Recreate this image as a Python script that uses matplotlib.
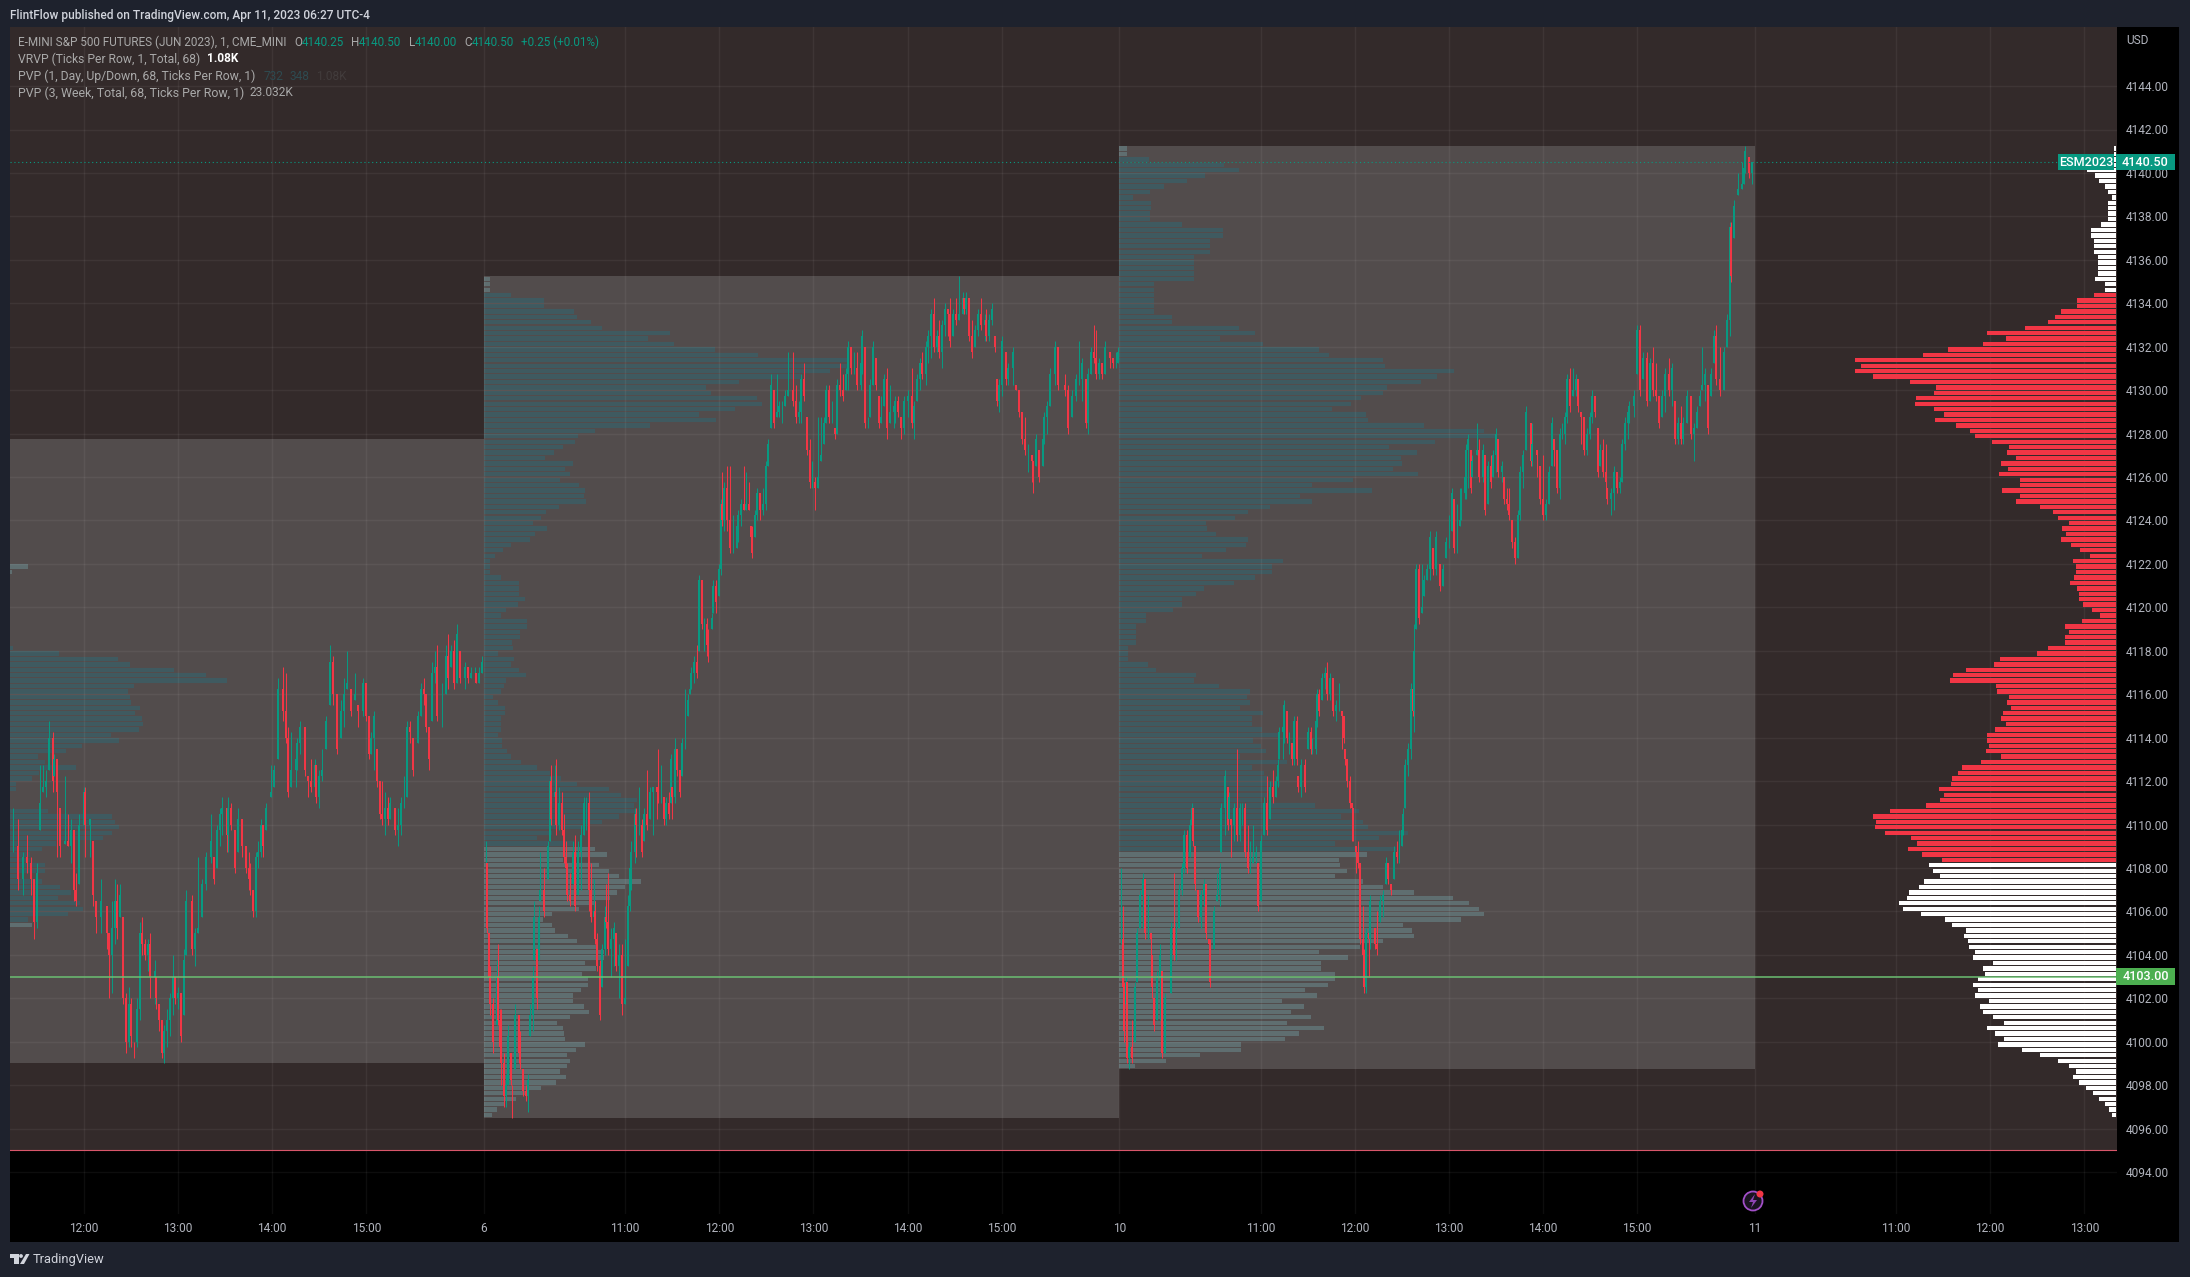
import numpy as np
import matplotlib
matplotlib.use("Agg")
import matplotlib.pyplot as plt
from matplotlib.patches import Rectangle, Circle, Polygon

plt.rcParams['font.family'] = ['Roboto', 'DejaVu Sans']

# --- ticks ---
price_ticks = [4144, 4142, 4140, 4138, 4136, 4134, 4132, 4130, 4128, 4126, 4124, 4122, 4120, 4118, 4116, 4114,
               4112, 4110, 4108, 4106, 4104, 4102, 4100, 4098, 4096, 4094]
time_ticks = [-255, -195, -135, -75, 0, 90, 150, 210, 270, 330, 405, 495, 555, 615, 675, 735, 810, 900, 960, 1020]
time_labels = ['12:00', '13:00', '14:00', '15:00', '6', '11:00', '12:00', '13:00', '14:00', '15:00', '10',
               '11:00', '12:00', '13:00', '14:00', '15:00', '11', '11:00', '12:00', '13:00']

# --- session boxes (first bar, high, low) ---
box_start = [-405, 0, 405]
box_top = [4127.75, 4135.25, 4141.25]
box_bottom = [4099.0, 4096.5, 4098.75]

# --- session 1 candles ---
s1_min = [105,108,111,114,116,118,120,122,124,126,128,130,131,133,135,138,140,142,144,145,147,150,151,154,156,158,161,165,166,168,
          170,171,173,175,177,179,180,182,184,186,187,189,191,192,195,196,198,200,201,203,205,207,208,210,212,214,215,219,221,223,
          225,228,231,233,235,237,238,241,242,244,246,248,251,253,255,256,258,260,261,263,264,266,269,271,274,277,279,280,282,285,
          286,288,291,293,295,297,298,300,302,304,307,309,311,314,316,318,320,323,325,328,330,332,333,335,337,339,340,342,344,345,
          348,350,352,354,356,358,360,363,365,367,368,370,372,374,375,378,381,382,384,386,388,390,393,395,397,399,400,402,404]
s1_high = [4110.75,4110.25,4108.75,4109.5,4108.5,4107.5,4108.25,4112.75,4112.75,4112.5,4114.75,4114.25,4113.25,4113,4110.75,4112.25,4110.5,4110.25,4109.75,4107.75,4110.5,4111.75,4111.75,4110.25,4109.25,4106.5,4107.5,4106.25,4105,4106.5,
           4107.5,4107.25,4107.25,4105.75,4102.25,4102.5,4102,4100,4102,4105.5,4105.75,4104.75,4104.75,4105,4103.75,4103,4101.75,4101,4100.75,4101.5,4102.25,4104,4103,4102.5,4102.25,4104.25,4107,4106.75,4105.25,4108.5,
           4107.5,4108.75,4110.5,4108.5,4110,4110.75,4111.25,4110.75,4111.25,4111,4109.75,4110.75,4110.25,4109,4108.75,4108.25,4107,4108.75,4109.25,4110.25,4110,4111,4112.75,4112.75,4116.75,4117.25,4117,4114.5,4114.25,4113.25,
           4114,4114.75,4114.5,4112.25,4113,4113,4112.75,4112.5,4113.5,4115,4118.25,4117.75,4116,4115.75,4116.75,4118,4116.25,4117,4115.5,4116.75,4116.5,4115,4114.25,4115.25,4113.5,4112,4112,4111.5,4111.25,4111.25,
           4110.75,4110.75,4111.25,4112.25,4114.75,4114.75,4114,4115.25,4116.5,4116.75,4116,4114.5,4117.5,4118,4118.25,4116.5,4118.25,4118.75,4118.25,4118.5,4119.25,4118,4117.5,4117.25,4117.25,4117.25,4117,4117.25,4117.75]
s1_low = [4108.75,4107,4106.75,4107.75,4106.75,4104.75,4105.25,4109.75,4111.5,4111.25,4112.5,4111.5,4112.25,4108.5,4108.5,4109.1,4109,4108.25,4106.5,4106.25,4107.25,4110,4108.5,4108.5,4106.25,4105,4105,4104.25,4102,4102.25,
          4104.5,4104.75,4105.75,4101.75,4099.5,4099.75,4099.75,4099.25,4099.75,4101,4104,4103.75,4103.25,4102,4101.75,4101.5,4100.5,4099.25,4099,4099.75,4100.25,4101.25,4101.75,4101.5,4100,4101.25,4104,4104,4103.5,4105,
          4105.75,4107,4108.25,4107.25,4108,4109,4109.5,4108.75,4108.75,4109.75,4107.75,4108.75,4108.5,4107.75,4107,4106.75,4105.75,4105.75,4108,4108.5,4108.5,4109.75,4111.25,4111.75,4113,4114.75,4113.75,4111.25,4111.75,4111.75,
          4112.5,4113.25,4112.25,4111.25,4111.5,4111.75,4111,4110.75,4112,4113.5,4115.5,4115.5,4113.25,4114,4114.5,4116.25,4115,4115.75,4114.5,4115,4114.75,4113,4113.25,4112.5,4111.75,4110.25,4110,4109.5,4110,4110.25,
          4109.5,4109,4109.5,4110.75,4111.25,4113.75,4112.25,4113.75,4115,4115.5,4114.25,4112.5,4114.75,4116.5,4114.75,4114.5,4116,4116.25,4117.25,4116.25,4116.5,4116.5,4116.25,4116.5,4116.75,4116.75,4116.5,4116.5,4117]
s1_close = [4109,4107.5,4108.5,4108.25,4107.5,4105.5,4107.75,4111,4111.75,4112,4114,4112,4113,4111.5,4109,4109.25,4109,4109.75,4107,4106.5,4110,4111.5,4110,4110.25,4106.75,4105.75,4106.5,4105,4104,4105.25,
            4106.5,4105.25,4106.75,4102,4100,4101.75,4100.25,4100,4101.5,4105,4104.5,4104,4104.5,4103,4103.25,4102,4101,4099.5,4100.5,4101,4102,4103,4102,4102.25,4100.25,4103.75,4106.5,4104.25,4105,4105.25,
            4107.25,4108.5,4109.25,4107.5,4109.75,4110.5,4110.75,4109.5,4110.75,4110,4108,4110.25,4109,4108,4107.5,4107,4106,4108.5,4108.75,4110,4109,4110.75,4111.5,4112.5,4116.25,4115.25,4114,4111.5,4112.5,4113,
            4113.75,4114.5,4112.5,4112,4111.75,4112.75,4111.25,4112.25,4112.5,4114.75,4117.5,4116,4113.5,4115.25,4116,4116.5,4115.25,4116,4115.25,4116.5,4115,4113.25,4114,4115,4112,4110.5,4110.25,4110.75,4110.25,4111,
            4109.75,4110,4111,4111,4114.5,4114.25,4112.5,4115,4116.25,4116,4114.5,4113,4117,4117.25,4115,4115,4117.75,4116.75,4118,4116.5,4118.75,4116.75,4117.25,4116.75,4117,4117,4116.5,4117,4117.5]

# --- session 2 candles ---
s2_min = [1,2,3,4,6,8,9,10,11,13,14,15,17,18,20,22,23,25,27,28,29,31,32,34,35,36,38,41,42,43,45,46,48,50,51,52,53,55,57,58,
          60,62,64,65,67,68,70,71,72,74,75,77,78,79,81,83,84,86,88,90,92,93,94,96,97,99,101,102,104,106,108,110,111,113,115,116,118,119,120,122,
          123,125,126,128,130,131,132,134,136,137,139,140,142,143,145,146,148,150,151,152,153,155,157,159,161,162,164,166,167,169,170,171,173,174,176,178,180,181,183,185,
          187,188,190,192,194,197,199,201,202,204,206,208,209,211,213,215,217,218,220,222,224,225,227,229,231,232,234,236,238,240,241,243,245,246,248,250,252,253,255,257,
          259,261,262,264,266,268,270,273,274,276,278,279,282,283,285,287,289,290,292,294,296,297,299,301,303,305,306,307,309,311,313,315,317,319,320,322,324,326,327,328,
          330,333,334,337,339,341,343,345,347,349,350,352,354,356,357,359,361,364,366,370,372,375,377,379,381,384,385,387,389,390,392,394,396,399,401,403,404]
s2_high = [4109.25,4108.25,4105,4103.5,4102,4103.75,4104.5,4101.5,4101.5,4099.5,4098.5,4100.75,4099.5,4098,4101.75,4101.25,4100.5,4098.75,4098,4098.5,4101.75,4103.5,4106.5,4104.25,4106.25,4108.75,4108,4109.25,4112.25,4112.75,4112.75,4113,4111.75,4111.5,4110.5,4109.25,4108.25,4107.75,4109.25,4109.5,
           4109.25,4110,4111.25,4111.25,4111.5,4108.25,4107.5,4106.5,4105,4103.75,4104.5,4106.25,4107.25,4107.75,4105.25,4105.5,4105,4104.5,4104.5,4104.75,4106.75,4108.25,4109.25,4110.75,4110.75,4111.75,4110.25,4110.75,4112.5,4111.75,4111.75,4111.75,4113.5,4112.75,4111.25,4111.25,4111.5,4113.25,4111.75,4114,
           4113.5,4112.5,4114,4116.25,4116,4116.5,4117.25,4117.75,4118.25,4121.5,4121.25,4119.5,4119.5,4119,4119.75,4121.25,4121.25,4122,4125,4126.25,4125.75,4126.5,4126.5,4124.25,4124,4124.5,4125,4126.5,4126.25,4125.75,4123.75,4123.75,4124.5,4125.5,4125.25,4125.5,4126.75,4127.75,4130.75,4130,
           4130.75,4129.5,4129.5,4130,4131.75,4131.75,4130.25,4129.5,4130.75,4131.25,4128.75,4127.75,4126.75,4126,4128.75,4128.75,4128.75,4130.25,4130.25,4129.5,4128.25,4130.5,4131.25,4130.75,4131,4132.25,4132,4131.75,4131.75,4131.5,4132.75,4132,4128.75,4130.5,4132.25,4131.5,4129.75,4129.75,4130.75,4131,
           4130.25,4129.5,4129.75,4129.75,4128.75,4129.75,4130,4131,4129.5,4130.75,4131.5,4131.75,4132.25,4132.75,4133.75,4134.25,4132.75,4133.25,4133.25,4134,4133.75,4134.25,4133.75,4134.25,4135.25,4134.5,4134.25,4134.5,4134.25,4133.25,4133,4133.75,4134.25,4133.5,4133.75,4133.5,4134,4132.5,4130.5,4130.5,
           4132.5,4131.75,4131.25,4132,4130.25,4130,4129,4128.75,4127.5,4127,4126.75,4128,4127.25,4128,4129,4129.5,4131,4132.25,4132,4130.75,4130.25,4130,4130.75,4132.25,4131.5,4130.5,4131,4132,4133,4132.75,4131.5,4131.25,4132.25,4131.75,4131.5,4131.75,4132]
s2_low = [4107.25,4105,4102,4101.25,4099.5,4100.75,4100.75,4099.25,4098,4097,4097,4098,4098,4096.5,4098.75,4099,4098.75,4097.5,4097.25,4096.75,4100.25,4100.5,4103.75,4101.5,4103.75,4106.5,4105.75,4107.5,4109.25,4110,4111.25,4109.5,4109.75,4109.5,4108.25,4107.75,4106.5,4106.25,4107.25,4106,
          4106.75,4107,4109.5,4109.75,4106,4105.5,4105.75,4104.5,4103.25,4101,4102.5,4104,4105.25,4104,4103,4103.5,4103.25,4102,4101.25,4101.75,4103.5,4106,4107,4108.25,4108.5,4109.5,4108.5,4109.25,4109.75,4110.25,4109.5,4110.25,4111,4111,4110,4110,4110.25,4111,4110.25,4111,
          4112.25,4111.25,4112.25,4113.5,4115,4116,4116.25,4116.5,4116.75,4118,4119,4118,4117.75,4117.5,4119,4119.75,4119.75,4120.5,4121.5,4123.75,4123.5,4123.5,4122.5,4122.5,4122.75,4123,4123.75,4124.5,4124.5,4124.5,4123,4122.25,4123.25,4124,4124,4124.25,4124.5,4126.5,4128.25,4128.25,
          4128.75,4128.75,4128.5,4129.25,4129.75,4129.25,4128.5,4128.5,4128.5,4129.5,4127,4125.5,4125.5,4124.5,4125.5,4126.75,4127.5,4128.5,4128.5,4128.5,4127.75,4128,4129.75,4129.5,4130,4130,4130.75,4130.75,4130,4130,4130.75,4128.25,4128.25,4128.75,4130.25,4130,4128.25,4128.5,4129.25,4127.75,
          4128.5,4128.25,4128.5,4128.75,4127.75,4128,4128.75,4128.25,4127.75,4129.5,4130,4130.5,4130.25,4131.25,4131.5,4131.75,4131.75,4131.5,4131,4132.5,4132.5,4132,4132.5,4133,4133.25,4133.5,4133.5,4133.5,4132.25,4131.5,4132,4132.5,4132.75,4132.25,4132.25,4132.25,4133,4131.75,4129.25,4129,
          4129.75,4130.25,4130.25,4130.25,4130,4128.75,4127.5,4127,4126.25,4125.75,4125.25,4126.5,4125.75,4126.5,4127.5,4128,4129.25,4130.25,4130,4129.75,4128,4128.75,4129.5,4130.25,4129.5,4128.25,4128,4130.75,4131.25,4130.5,4130.5,4130.5,4130.75,4131,4131,4131,4131.25]
s2_close = [4108.75,4105.25,4103,4101.75,4100,4103,4101,4099.75,4099,4097.5,4098,4100.25,4098.25,4098,4101.25,4099.5,4099,4097.75,4097.5,4098.25,4101.25,4103,4105.75,4102,4105.75,4107,4106,4109,4112,4110.25,4111.5,4110,4111,4109.75,4108.5,4108,4106.75,4106.5,4108.75,4106.25,
            4108.75,4109.5,4111,4111,4107,4105.75,4106,4104.75,4103.5,4101.25,4104.25,4105.75,4105.5,4104.25,4104.75,4105.25,4103.5,4104,4101.75,4102,4106.25,4108,4108.75,4110.5,4110,4110,4108.75,4110.5,4110,4111.5,4111.75,4111.5,4111.25,4111.25,4110.25,4111,4110.5,4113,4111.25,4113.5,
            4112.5,4111.5,4113.75,4113.75,4115.75,4116.25,4117,4117.5,4117,4121.25,4119.25,4119.25,4118.25,4117.75,4119.5,4121,4120.25,4121.75,4124.75,4124,4125.5,4124,4122.75,4122.75,4123.75,4124.25,4124.75,4124.5,4124.75,4124.5,4123.25,4122.5,4124.25,4125.25,4124.5,4124.75,4126.5,4127.5,4130.25,4128.5,
            4129,4129.25,4129.25,4129.75,4130,4129.5,4128.75,4129,4130.5,4129.75,4127.25,4125.75,4125.75,4125.5,4126,4127,4128.5,4130,4128.75,4128.75,4128,4130.25,4130,4129.75,4130.75,4132,4131,4131,4130.25,4131.25,4132.5,4128.5,4128.5,4130.25,4132,4130.25,4128.5,4128.75,4130.5,4128.25,
            4129,4129.25,4129.5,4129,4128.25,4129.5,4129.75,4128.5,4129.25,4130.5,4131.25,4130.75,4132,4132.5,4133.5,4132,4132.5,4131.75,4133,4133.75,4133.5,4132.25,4133.5,4133.25,4133.5,4134.25,4133.75,4134.25,4132.5,4131.75,4132.75,4133.5,4133,4133.25,4132.5,4133.25,4133.75,4132,4129.5,4130.25,
            4132.25,4130.5,4131,4131.75,4130,4129,4127.75,4127.25,4127.25,4126.75,4125.75,4127.75,4126,4127.75,4128.75,4129.25,4130.75,4132,4130.25,4130,4128.25,4129.75,4130.5,4130.5,4131.25,4128.5,4130.75,4131.75,4131.5,4130.75,4131.25,4130.75,4132,4131.5,4131.25,4131.25,4131.75]

# --- session 3 candles ---
s3_min = [1,2,3,4,5,6,8,10,11,13,15,16,18,20,21,22,24,26,27,29,33,35,36,38,40,41,43,45,46,47,48,50,52,54,55,57,58,60,62,64,
          65,67,69,70,71,73,75,77,78,80,82,83,85,87,88,90,92,94,96,98,100,101,102,104,105,107,108,110,111,113,114,116,118,120,122,123,125,126,127,129,
          131,132,134,136,138,140,142,143,144,145,147,148,149,151,152,153,155,156,157,159,160,163,164,166,168,170,171,173,175,177,178,180,181,182,184,186,187,188,189,191,
          193,194,196,198,200,202,204,206,208,210,212,213,215,217,218,220,221,222,224,225,228,229,232,233,235,237,238,240,241,244,245,247,248,250,252,254,255,257,259,262,
          263,266,268,270,272,274,276,277,279,281,282,284,285,287,289,291,292,294,296,298,300,301,303,305,306,308,310,311,313,315,317,319,320,322,324,325,328,330,332,334,
          336,338,340,342,344,346,348,350,352,354,356,358,359,362,364,366,368,370,371,373,375,377,379,380,383,385,387,389,390,392,394,397,398,399,401,403]
s3_high = [4108,4106.25,4102.75,4103,4102.75,4100,4101,4102.75,4105.25,4107,4107.75,4107.5,4106.75,4105,4104,4102,4103.25,4104.5,4103.25,4102.25,4105.5,4107.75,4105.5,4107.25,4108.25,4109.75,4109.75,4110.25,4111,4110.75,4109,4107,4107,4107.5,4107.25,4104.75,4104.75,4106.25,4107.75,4108.25,
           4111,4112.5,4111.75,4111.5,4110.25,4111,4113.5,4111,4111,4111,4110,4109.25,4110,4109,4108.25,4109.5,4111.25,4112.25,4112,4112.5,4112.25,4113,4114.5,4114.75,4115.75,4115.25,4114.25,4113.75,4115,4115,4112.25,4113,4113,4114.5,4114.5,4114,4115,4116.25,4116.25,4117,
           4117.25,4117.5,4117,4116.75,4115.75,4116.5,4115.25,4115,4113.5,4113,4112.25,4111,4110.75,4109,4109.25,4108.25,4106.25,4104.25,4105.25,4105.25,4106.75,4105.25,4106,4106.75,4107,4108.5,4108.25,4107.25,4109,4109.25,4109.75,4110,4110.75,4113,4113.75,4116.5,4116.25,4119.25,4122,4122,
           4122,4121.5,4122,4123.5,4122.75,4123.5,4122,4122,4123.25,4124.25,4125.5,4125,4124.75,4125.5,4125.5,4126.25,4127.5,4128,4127.25,4127,4128.5,4127.75,4127.5,4127,4126.75,4127,4127.25,4128.25,4127.75,4126.75,4126,4125.5,4125.5,4124,4123.25,4124.5,4126.5,4127.25,4129.25,4128.5,
           4128.5,4127.25,4126.5,4127,4125,4126.5,4128.75,4127.75,4127.25,4128.25,4128.5,4129,4130.75,4131,4131,4130.75,4130.5,4129,4128.75,4128.25,4129,4130,4129.75,4128.25,4127.5,4127.75,4127.5,4125.5,4125.5,4126.5,4126.25,4126,4127.75,4128.75,4129.25,4129.5,4130,4133,4133,4131.75,
           4131.75,4131.5,4132,4131.25,4129.75,4130,4131,4131.5,4131.25,4129.5,4128.75,4129.25,4128.75,4130,4129.75,4128.5,4129.25,4130,4132,4131,4130.25,4131,4132.75,4133,4132,4132,4133.5,4137.75,4137.75,4138.75,4140,4140.5,4140.5,4141.25,4140.75,4140.5]
s3_low = [4104.5,4101.5,4100,4101.75,4099,4098.75,4099,4100,4102.75,4105.25,4105.25,4104.75,4104.75,4103,4102,4100.5,4101,4101,4099.25,4099.5,4102.25,4103.75,4103.75,4105.25,4106.75,4107.75,4107.75,4108.5,4109.5,4109,4107,4105.5,4105.25,4106.25,4104.75,4104,4102.5,4104.25,4106.5,4106.25,
          4108.75,4109.5,4109.75,4110.25,4108.5,4109.25,4109.25,4109.25,4110,4108.5,4107.75,4107.75,4108.25,4108.25,4106,4106.5,4109.5,4109.5,4110.25,4111,4111.25,4111.75,4113,4113,4113.75,4113.75,4113.25,4112.75,4112.75,4112.75,4111.5,4111.25,4111.5,4113.5,4113.25,4113.25,4113.25,4114.5,4115,4115.75,
          4116.25,4115.75,4115.75,4115,4114.75,4115.25,4113.5,4113.75,4112.75,4111.75,4110.75,4109.25,4109.25,4107.75,4108,4104.5,4103.75,4102.25,4102.25,4103,4104.25,4104.25,4104,4105.5,4105.75,4107.25,4107.25,4106.75,4107.5,4108.25,4108.25,4109,4109.5,4110.75,4112.25,4113,4115,4114.25,4119,4119.25,
          4119.75,4120.5,4121.25,4121.25,4121.5,4121.5,4120.75,4121,4122.25,4122.75,4123.5,4122.5,4122.5,4123.75,4124,4125,4125,4125.5,4125.25,4126,4127,4125.75,4125.75,4124.25,4124.75,4125.5,4126,4126.25,4126,4125.75,4124.75,4124.5,4124,4122.75,4122,4122.25,4124,4125.5,4127.25,4126.5,
          4126.5,4126,4124.75,4124,4124,4124.75,4126.5,4126.5,4125.25,4125,4127.75,4127.5,4128.5,4129,4129.75,4129.75,4129,4127.5,4127,4127,4127.75,4128.5,4128.75,4126,4126.5,4126,4125.5,4124.75,4124.25,4124.5,4125.25,4125.25,4125.75,4127.25,4127.75,4128.5,4128.75,4130.75,4129.75,4130.5,
          4129.25,4129.5,4129.75,4129.5,4128.25,4128.75,4129,4129.75,4129.25,4127.5,4127.5,4127.5,4127.5,4128.5,4127.75,4126.75,4128.25,4129.25,4130,4129.5,4128,4129.75,4131.25,4130.25,4129.75,4130,4132,4132.5,4135,4137,4139,4139.25,4139.5,4140,4139.75,4139.5]
s3_close = [4104.75,4102.5,4100.5,4102.75,4099.25,4099.75,4099.25,4102.5,4105,4106.75,4107.5,4105,4105,4104.75,4102.5,4100.75,4103,4104,4099.5,4102,4105.25,4104,4104,4107,4108,4109.5,4108,4110,4110.75,4109.25,4107.25,4105.75,4106.75,4107.25,4105,4104.5,4102.75,4106,4106.75,4108,
            4110.75,4112.25,4110,4111.25,4110,4110.75,4109.5,4110.75,4110.75,4108.75,4108,4108,4108.5,4108.75,4106.25,4109.25,4111,4109.75,4111.75,4111.25,4112,4112.75,4114.25,4114.5,4115.5,4114,4114,4113,4114.75,4113,4111.75,4112.75,4111.75,4114.25,4113.5,4113.5,4114.75,4116,4115.25,4116.75,
            4117,4116,4116.75,4115.25,4115.5,4115.5,4115,4114,4113,4112,4111,4110.75,4109.5,4108.75,4108.25,4104.75,4104,4102.5,4105,4104.75,4106.5,4104.5,4104.25,4106.5,4106.75,4108.25,4107.5,4107,4108.75,4108.5,4108.5,4109.75,4110.5,4112.75,4113.5,4116.25,4115.25,4118,4121.75,4119.5,
            4120,4121.25,4121.75,4123.25,4121.75,4123.25,4121,4121.75,4123,4123,4125.25,4122.75,4122.75,4124,4125.25,4126,4127.25,4127.75,4125.5,4126.75,4127.25,4126,4127.25,4124.5,4126.5,4125.75,4127,4128,4126.25,4126.5,4125,4124.75,4124.25,4123,4122.25,4124.25,4126.25,4127,4129,4126.75,
            4127.5,4127,4125,4124.25,4124.75,4126.25,4128.5,4127.25,4125.5,4128,4128,4128.75,4130.5,4129.25,4130,4130.5,4129.25,4128.75,4127.25,4128,4128.75,4129.75,4129,4126.25,4127.25,4126.25,4125.75,4125,4125.25,4126.25,4125.5,4125.75,4127.5,4128.5,4129,4129.25,4129.75,4132.75,4130,4131.5,
            4129.5,4131.25,4130,4129.75,4128.5,4129.75,4130.75,4130,4131,4127.75,4128.5,4127.75,4128.5,4129.75,4128,4128.25,4129,4129.75,4130.25,4130.75,4128.25,4130.75,4132.5,4130.5,4130,4131.75,4133.25,4137.5,4135.25,4138.5,4139.25,4139.5,4140.25,4141,4140,4140.5]

# --- session volume profiles, top row first, read in rows of one tick ---
s1_top_row = 4121.875
s1_va = (4118.125, 4105.625)
s1_vol = [55,7,0,0,0,0,0,0,0,0,0,0,0,0,0,10,148,325,361,493,589,652,373,355,361,364,391,376,397,400,388,304,328,217,169,85,106,199,88,67,19,19,0,0,0,
          115,307,316,328,307,280,138,97,60,60,106,106,20,97,151,184,145,211,220,175,55,65]
s2_top_row = 4135.125
s2_va = (4134.375, 4109.125)
s2_vol = [14,14,14,65,144,144,217,224,258,284,448,395,458,557,661,880,875,834,765,615,536,547,658,670,605,518,559,400,267,226,219,190,169,147,214,195,207,183,229,243,241,247,181,149,137,119,152,123,111,65,
          45,26,14,14,14,41,84,84,84,99,82,53,41,103,103,86,86,67,70,33,72,65,84,101,53,48,41,21,33,50,50,41,41,41,33,43,43,55,65,
          89,128,160,185,224,301,330,370,361,368,325,284,240,165,128,215,267,296,190,277,301,325,378,340,320,304,270,229,164,142,164,171,202,224,270,290,290,243,270,236,251,251,234,214,214,241,253,207,176,190,193,195,243,222,200,207,200,183,197,173,137,108,77,50,31,19]
s3_top_row = 4141.125
s3_va = (4140.625, 4108.875)
s3_vol = [19,19,71,248,285,204,161,107,73,33,76,76,73,73,149,247,247,214,214,214,176,176,176,176,176,81,81,81,81,81,81,126,126,285,323,240,342,473,499,627,632,796,755,717,636,627,575,551,506,587,591,724,865,896,750,641,708,670,672,651,710,556,458,601,430,458,358,306,275,206,209,230,306,301,252,197,389,363,363,323,273,202,183,149,149,128,64,64,40,
          40,40,40,21,21,21,69,88,183,176,237,311,304,311,287,342,316,314,338,381,318,337,349,287,397,316,344,354,381,356,351,338,465,570,527,579,591,686,617,513,656,589,522,525,541,513,579,627,701,793,831,855,865,812,674,696,701,627,572,473,544,480,480,511,513,496,442,470,387,439,408,454,399,487,427,394,290,290,192,111,38]

# --- visible range profile, top row first ---
vrvp_top_row = 4141.125
vrvp_upper = [2,2,5,15,29,21,17,11,8,4,8,8,8,8,15,25,25,22,22,22,18,18,18,18,21,11,11]
vrvp_mid = [22,39,39,55,61,68,91,129,110,133,168,193,261,255,261,243,206,180,182,200,201,182,172,181,160,146,141,124,107,109,100,115,108,117,96,96,114,96,100,76,63,58,47,54,50,55,45,36,26,43,40,40,42,46,39,37,37,33,24,16,34,51,47,51,51,68,79,116,
            122,150,163,166,120,119,107,109,105,113,115,110,121,129,129,127,130,115,135,154,158,164,165,177,172,176,190,226,243,240,241,231,205,199,208,194,174]
vrvp_lower = [187,183,176,192,197,207,209,217,213,195,171,164,150,152,148,147,141,143,123,133,131,138,143,138,141,127,136,133,123,112,129,121,112,118,94,76,58,47,40,43,37,30,23,17,11,7,4]

last_price = 4140.5
line_price = 4103.0
pane_floor = 4095.0

# colours
UP = '#089981'
DOWN = '#f23645'
PANE = '#332a2a'
BOX = '#524c4c'
TEAL = '#3f5a60'
GREY = '#5f6e70'
TEXT = '#b2b5be'
W, H = 2190, 1277
BAR_PX = 1.569
PX_PER_PT = 21.72


def fx(x):
    return x / W


def fy(y):
    return 1 - y / H


def label(x, y, s, color=TEXT, **kw):
    kw.setdefault('fontsize', 8.6)
    kw.setdefault('va', 'center')
    fig.text(fx(x), fy(y), s, color=color, **kw)


fig = plt.figure(figsize=(W / 100, H / 100), dpi=100, facecolor='#1e222d')
fig.add_artist(Rectangle((fx(10), fy(1242)), fx(2169), 1215 / H, transform=fig.transFigure, color='#000000', lw=0, zorder=-1))

ax = fig.add_axes([fx(10), fy(1214), fx(2107), 1187 / H], facecolor='#000000')
ax.set_xlim((10 - 484) / BAR_PX, (2117 - 484) / BAR_PX)
ax.set_ylim(4142 - (1214 - 129.5) / PX_PER_PT, 4142 + (129.5 - 27) / PX_PER_PT)
for s in ax.spines.values():
    s.set_visible(False)

ax.axhspan(pane_floor, 4200, color=PANE, lw=0, zorder=0.5)
ax.axhline(pane_floor, color='#d8566a', lw=0.8, zorder=3)
ax.bar(box_start, np.array(box_top) - np.array(box_bottom), width=405, bottom=box_bottom, align='edge',
       color=BOX, lw=0, zorder=1)

# session profiles, the first one starts at the left edge of the pane
left = ax.get_xlim()[0]
for start, top, va, vol, div in [(left, s1_top_row, s1_va, s1_vol, 3.0),
                                 (0, s2_top_row, s2_va, s2_vol, 2.412),
                                 (405, s3_top_row, s3_va, s3_vol, 2.376)]:
    vol = np.array(vol, dtype=float)
    rows = top - 0.25 * np.arange(len(vol))
    colors = [TEAL if va[1] <= r <= va[0] else GREY for r in rows]
    ax.barh(rows, vol / div / BAR_PX, height=0.2, left=start, color=colors, lw=0, zorder=2)

# right hand profile
vrvp = np.array(vrvp_upper + vrvp_mid + vrvp_lower, dtype=float)
v_rows = vrvp_top_row - 0.25 * np.arange(len(vrvp))
v_cols = ['#ffffff'] * len(vrvp_upper) + ['#f23645'] * len(vrvp_mid) + ['#ffffff'] * len(vrvp_lower)
right = ax.get_xlim()[1]
ax.barh(v_rows, -vrvp / BAR_PX, height=0.2, left=right - 0.6, color=v_cols, lw=0, zorder=3)

# candles
for offset, m, hi, lo, cl in [(-405, s1_min, s1_high, s1_low, s1_close),
                              (0, s2_min, s2_high, s2_low, s2_close),
                              (405, s3_min, s3_high, s3_low, s3_close)]:
    x = np.array(m, dtype=float) + offset
    hi, lo, cl = np.array(hi), np.array(lo), np.array(cl)
    op = np.r_[cl[0], cl[:-1]]
    cols = np.where(cl >= op, UP, DOWN)
    ax.vlines(x, lo, hi, colors=cols, lw=0.75, zorder=4)
    ax.vlines(x, np.clip(np.minimum(op, cl), lo, hi), np.clip(np.maximum(op, cl), lo, hi), colors=cols, lw=1.45, zorder=4)

# price lines
ax.plot([left, (2058 - 484) / BAR_PX], [last_price, last_price], color=UP, lw=0.8, ls=(0, (1, 2.5)), zorder=5)
ax.axhline(line_price, color='#6cbf73', lw=1.1, zorder=5)

ax.set_yticks(price_ticks)
ax.set_yticklabels([f'{p:.2f}' for p in price_ticks])
ax.yaxis.tick_right()
ax.set_xticks(time_ticks)
ax.set_xticklabels(time_labels)
ax.tick_params(axis='y', length=0, pad=6.5, labelsize=8.6, labelcolor=TEXT)
ax.tick_params(axis='x', length=0, pad=5.5, labelsize=8.6, labelcolor=TEXT)
ax.grid(True, color='#ffffff', alpha=0.055, lw=1)
ax.set_axisbelow(False)

# price labels on the axis
for x0, x1, price, col, s in [(2058, 2114, last_price, UP, 'ESM2023'), (2116, 2175, last_price, UP, '4140.50'),
                              (2116, 2175, line_price, '#4caf50', '4103.00')]:
    yc = 129.5 + (4142 - price) * PX_PER_PT
    fig.add_artist(Rectangle((fx(x0), fy(yc + 8.3)), (x1 - x0) / W, 16.6 / H, transform=fig.transFigure, color=col, lw=0, zorder=6))
    fig.text(fx((x0 + x1) / 2), fy(yc), s, color='#ffffff', fontsize=9.1, fontweight='medium', ha='center', va='center', zorder=7)

label(2126, 40, 'USD')

# header and legend
label(10, 15, 'FlintFlow published on TradingView.com, Apr 11, 2023 06:27 UTC-4', color='#d1d4dc', fontsize=8.6, fontweight='medium')
label(18, 42, 'E-MINI S&P 500 FUTURES (JUN 2023), 1, CME_MINI', color='#a9a9a9', fontsize=8.45)
for x, s in [(294, 'O'), (351, 'H'), (408.5, 'L'), (464, 'C')]:
    label(x, 42, s, color='#a9a9a9', fontsize=8.4)
for x, s in [(302, '4140.25'), (359, '4140.50'), (415, '4140.00'), (472, '4140.50'), (521, '+0.25 (+0.01%)')]:
    label(x, 42, s, color=UP, fontsize=8.4)
label(18, 59, 'VRVP (Ticks Per Row, 1, Total, 68)', color='#a9a9a9', fontsize=8.75)
label(207, 59, '1.08K', color='#ffffff', fontsize=8.6, fontweight='bold')
label(18, 76, 'PVP (1, Day, Up/Down, 68, Ticks Per Row, 1)', color='#a9a9a9', fontsize=8.8)
label(264, 76, '732', color='#2e4a50', fontsize=8.6)
label(290, 76, '348', color='#2e4a50', fontsize=8.6)
label(316, 76, '1.08K', color='#423c3c', fontsize=8.6)
label(18, 93, 'PVP (3, Week, Total, 68, Ticks Per Row, 1)', color='#a9a9a9', fontsize=8.9)
label(250, 93, '23.032K', color='#a9a9a9', fontsize=8.6)

# logo and footer
logo = [Polygon([(10, 1254), (19, 1254), (19, 1264), (14, 1264), (14, 1258), (10, 1258)]),
        Circle((21, 1256), 1.9),
        Polygon([(26, 1254), (29.5, 1254), (24, 1264), (20, 1264)])]
overlay = fig.add_axes([0, 0, 1, 1], facecolor='none')
overlay.set_xlim(0, W)
overlay.set_ylim(H, 0)
overlay.axis('off')
for p in logo:
    p.set_color('#d1d4dc')
    p.set_linewidth(0)
    overlay.add_patch(p)
label(33, 1259, 'TradingView', color='#d1d4dc', fontsize=9.3)

# snapshot badge
overlay.add_patch(Circle((1753, 1201), 9.5, facecolor='#1a1420', edgecolor='#a24fc8', lw=1.3))
overlay.add_patch(Polygon([(1755, 1194), (1749, 1202), (1753, 1202), (1751, 1208), (1757, 1200), (1753, 1200)], color='#8f45b5', lw=0))
overlay.add_patch(Circle((1760, 1194), 3.5, color='#f23645', lw=0))

fig.savefig('out.png', dpi=100, facecolor=fig.get_facecolor())
